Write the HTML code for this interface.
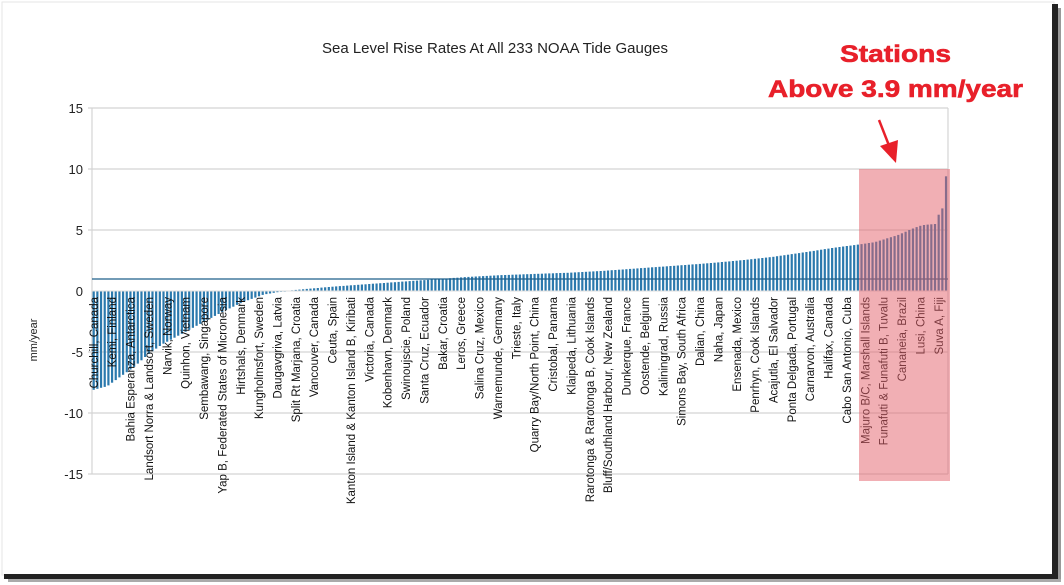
<!DOCTYPE html>
<html><head><meta charset="utf-8"><style>
html,body{margin:0;padding:0;background:#fff;}
svg{display:block;}
text{font-family:"Liberation Sans",sans-serif;}
</style></head><body>
<svg id="s" width="1064" height="585" viewBox="0 0 1064 585" xmlns="http://www.w3.org/2000/svg">
<rect x="0" y="0" width="1064" height="585" fill="#fff"/>
<rect x="2" y="2" width="1052" height="573" fill="#fff" stroke="#e6e6e6" stroke-width="1"/>
<rect x="1052" y="4" width="6" height="574" fill="#222"/>
<rect x="4" y="574" width="1054" height="5" fill="#222"/>
<rect x="1058" y="8" width="3" height="572" fill="#999"/>
<rect x="8" y="579" width="1053" height="3" fill="#aaa"/>
<g stroke="#d4d4d4" stroke-width="1.2">
<line x1="88" y1="108" x2="948" y2="108"/>
<line x1="88" y1="169" x2="948" y2="169"/>
<line x1="88" y1="230" x2="948" y2="230"/>
<line x1="88" y1="352" x2="948" y2="352"/>
<line x1="88" y1="413" x2="948" y2="413"/>
<line x1="88" y1="474" x2="948" y2="474"/>
<line x1="92" y1="108" x2="92" y2="474"/>
<line x1="948" y1="108" x2="948" y2="474"/>
</g>
<g font-size="13" fill="#222" text-anchor="end">
<text x="83" y="113">15</text><text x="83" y="174">10</text><text x="83" y="235">5</text>
<text x="83" y="296">0</text><text x="83" y="357">-5</text><text x="83" y="418">-10</text><text x="83" y="479">-15</text>
</g>
<text transform="translate(37,340) rotate(-90)" font-size="11" text-anchor="middle" fill="#222">mm/year</text>
<text x="495" y="53" font-size="15" text-anchor="middle" fill="#222">Sea Level Rise Rates At All 233 NOAA Tide Gauges</text>
<g id="bars" fill="#2b79ad"></g>
<line x1="92" y1="291" x2="948" y2="291" stroke="#ddd" stroke-width="1"/>
<line x1="92" y1="279" x2="948" y2="279" stroke="#1f5f8a" stroke-width="1.3"/>
<g id="labels" font-size="11.5" fill="#111" text-anchor="end"></g>
<rect x="859" y="169" width="91" height="312" fill="rgba(228,95,105,0.5)"/>
<g fill="#e8202a" font-weight="bold" font-size="24" stroke="#e8202a" stroke-width="0.6">
<text x="840" y="62" textLength="111" lengthAdjust="spacingAndGlyphs">Stations</text>
<text x="768" y="97" textLength="255" lengthAdjust="spacingAndGlyphs">Above 3.9 mm/year</text>
</g>
<line x1="879" y1="120" x2="890" y2="148" stroke="#e8202a" stroke-width="2.5"/>
<polygon points="880,146 898,140 896,163" fill="#e8202a"/>
</svg>
<script>
var kp=[[0,-8.1],[4,-7.8],[8,-7.0],[12,-6.2],[16,-5.2],[20,-4.4],[26,-3.5],[32,-2.6],[38,-1.7],[44,-0.9],[50,-0.3],[56,0],[62,0.15],[70,0.35],[80,0.55],[90,0.75],[100,0.95],[110,1.15],[120,1.3],[130,1.4],[140,1.5],[150,1.65],[160,1.85],[170,2.05],[180,2.25],[190,2.5],[200,2.8],[210,3.2],[218,3.55],[225,3.8],[230,4.0],[237,4.6],[241,5.1],[244,5.4],[248,5.5],[249,6.4],[250,6.8],[251,9.4]];
function val(i){var t=i*251/232;for(var k=1;k<kp.length;k++){if(t<=kp[k][0]){var a=kp[k-1],b=kp[k];return a[1]+(b[1]-a[1])*(t-a[0])/(b[0]-a[0]);}}return 9.4;}
var bw=856/233,g=document.getElementById('bars'),h='';
for(var i=0;i<233;i++){var v=val(i);var x=92+i*bw+0.6;var y0=291,y1=291-v*12.2;h+='<rect x="'+x.toFixed(2)+'" y="'+Math.min(y0,y1).toFixed(1)+'" width="2.2" height="'+Math.max(0.8,Math.abs(y1-y0)).toFixed(1)+'"/>';}
g.innerHTML=h;
var L=["Churchill, Canada","Kemi, Finland","Bahia Esperanza, Antarctica","Landsort Norra & Landsort, Sweden","Narvik, Norway","Quinhon, Vietnam","Sembawang, Singapore","Yap B, Federated States of Micronesia","Hirtshals, Denmark","Kungholmsfort, Sweden","Daugavgriva, Latvia","Split Rt Marjana, Croatia","Vancouver, Canada","Ceuta, Spain","Kanton Island & Kanton Island B, Kiribati","Victoria, Canada","Kobenhavn, Denmark","Swinoujscie, Poland","Santa Cruz, Ecuador","Bakar, Croatia","Leros, Greece","Salina Cruz, Mexico","Warnemunde, Germany","Trieste, Italy","Quarry Bay/North Point, China","Cristobal, Panama","Klaipeda, Lithuania","Rarotonga & Rarotonga B, Cook Islands","Bluff/Southland Harbour, New Zealand","Dunkerque, France","Oostende, Belgium","Kaliningrad, Russia","Simons Bay, South Africa","Dalian, China","Naha, Japan","Ensenada, Mexico","Penrhyn, Cook Islands","Acajutla, El Salvador","Ponta Delgada, Portugal","Carnarvon, Australia","Halifax, Canada","Cabo San Antonio, Cuba","Majuro B/C, Marshall Islands","Funafuti & Funafuti B, Tuvalu","Cananeia, Brazil","Lusi, China","Suva A, Fiji"];
var t='';
for(var k=0;k<L.length;k++){var cx=93.8+18.37*k+4;var s=L[k].replace(/&/g,'&amp;');t+='<text transform="translate('+cx.toFixed(1)+',297) rotate(-90)">'+s+'</text>';}
document.getElementById('labels').innerHTML=t;
</script>
</body></html>
